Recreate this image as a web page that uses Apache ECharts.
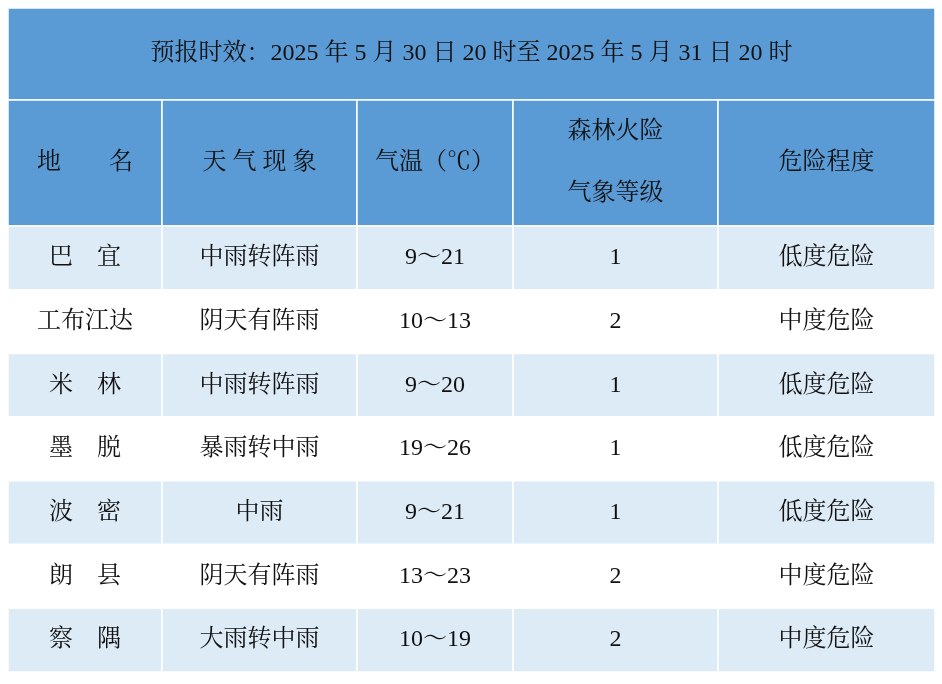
<!DOCTYPE html>
<html><head><meta charset="utf-8">
<script src="https://cdn.jsdelivr.net/npm/echarts@6/dist/echarts.min.js"></script>
<style>html,body{margin:0;padding:0;background:#fff}#c{width:942px;height:684px}</style>
</head><body><div id="c"></div>
<script>
const title = '预报时效：2025 年 5 月 30 日 20 时至 2025 年 5 月 31 日 20 时';
const headers = ['地　　名', '天 气 现 象', '气温（℃）', '森林火险\n气象等级', '危险程度'];
const stations = ['巴　宜', '工布江达', '米　林', '墨　脱', '波　密', '朗　县', '察　隅'];
const weather = ['中雨转阵雨', '阴天有阵雨', '中雨转阵雨', '暴雨转中雨', '中雨', '阴天有阵雨', '大雨转中雨'];
const temps = ['9～21', '10～13', '9～20', '19～26', '9～21', '13～23', '10～19'];
const levels = ['1', '2', '1', '1', '1', '2', '2'];
const risk = ['低度危险', '中度危险', '低度危险', '低度危险', '低度危险', '中度危险', '中度危险'];

const colX = [8, 162, 357, 513, 718, 935];
const tableTop = 8, titleH = 92, headH = 126, rowH = 63.7;
const font = '"Liberation Serif","Noto Serif CJK SC","Noto Sans CJK SC",serif';
const blue = '#5b9bd5', light = '#ddebf7';
const els = [];
function cell(x0, x1, y0, h, fill, txt, lh) {
  els.push({type:'rect', shape:{x:x0, y:y0, width:x1-x0, height:h},
    style:{fill:fill, stroke:'#fff', lineWidth:1.5}});
  els.push({type:'text', x:(x0+x1)/2, y:y0+h/2,
    style:{text:txt, font:'24px '+font, fill:'#111', align:'center', verticalAlign:'middle', lineHeight:lh||30}});
}
cell(colX[0], colX[5], tableTop, titleH, blue, title);
headers.forEach((h,i)=>cell(colX[i], colX[i+1], tableTop+titleH, headH, blue, h, 62));
const cols = [stations, weather, temps, levels, risk];
stations.forEach((_,r)=>{
  const y = tableTop+titleH+headH+r*rowH;
  cols.forEach((c,i)=>cell(colX[i], colX[i+1], y, rowH, r%2===0?light:'#fff', c[r]));
});
const chart = echarts.init(document.getElementById('c'));
chart.setOption({animation:false, graphic:{elements:els}});
</script></body></html>
